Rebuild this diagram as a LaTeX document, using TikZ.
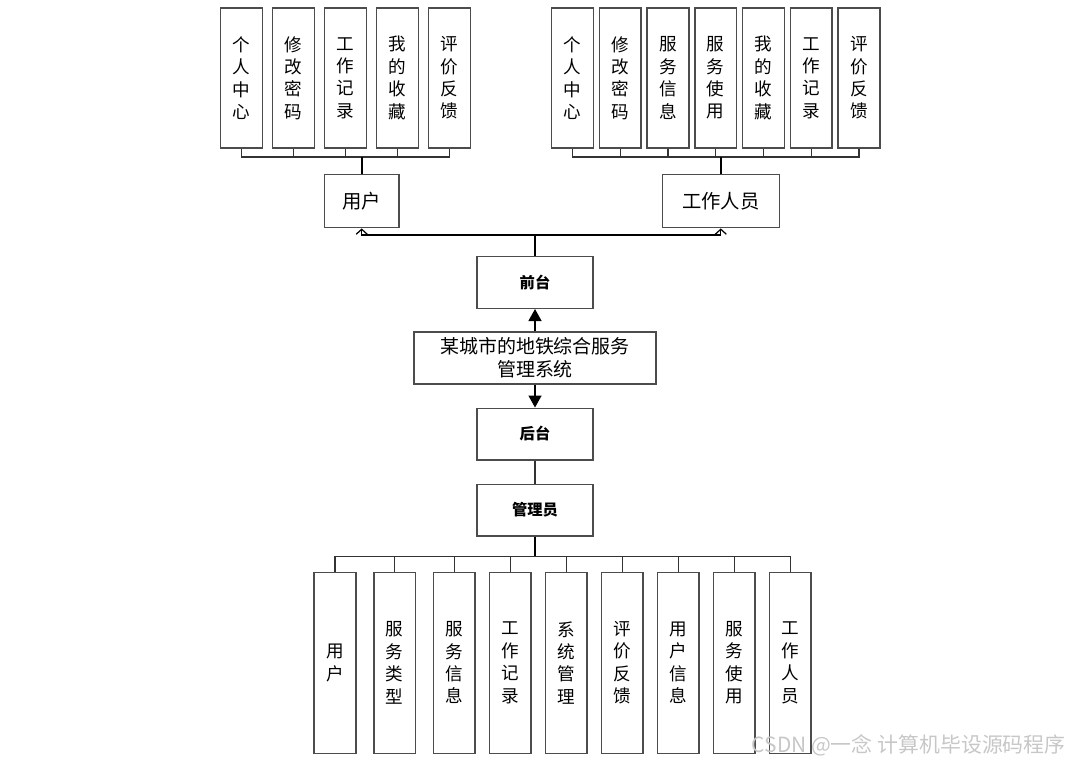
\documentclass[tikz,border=0pt]{standalone}
\usepackage{fontspec}
\setmainfont{Noto Sans CJK SC}
\usetikzlibrary{arrows.meta}

\begin{document}
\begin{tikzpicture}[x=0.02cm,y=-0.02cm,
    box/.style={draw=black!70, line width=0.8pt, fill=white, inner sep=0pt, align=center},
    vbox/.style={box, minimum width=0.834cm, font=\fontsize{10}{12.75}\selectfont},
    hbox/.style={box, minimum height=1.068cm, font=\fontsize{11}{13}\selectfont},
    mbox/.style={box, minimum width=2.326cm, minimum height=1.032cm, font=\fontsize{8.7}{11}\selectfont\bfseries},
    bus/.style={draw=black!80, line width=0.6pt},
    stem/.style={draw=black, line width=1.1pt}]
    \useasboundingbox (0,0) rectangle (1070,762);

    % Front end: the user's side
    \node[hbox, minimum width=1.494cm] (user) at (361.7,201) {用户};
    \foreach \t [count=\i] in {{个\\人\\中\\心},{修\\改\\密\\码},{工\\作\\记\\录},{我\\的\\收\\藏},{评\\价\\反\\馈}}
    \node[vbox, minimum height=2.8cm] (U\i) at (241.5+52*\i-52,78) {\t};
    \foreach \i in {1,...,5}
    \draw[bus] (user.north) -- ++(0,-16.6) -| (U\i.south);
    \draw[stem] (user.north) -- ++(0,-16.6);

    % Front end: the staff's side
    \node[hbox, minimum width=2.34cm] (staff) at (720.8,201) {工作人员};
    \foreach \t [count=\i] in {{个\\人\\中\\心},{修\\改\\密\\码},{服\\务\\信\\息},{服\\务\\使\\用},{我\\的\\收\\藏},{工\\作\\记\\录},{评\\价\\反\\馈}}
    \node[vbox, minimum height=2.8cm] (S\i) at (572.5+47.75*\i-47.75,78) {\t};
    \foreach \i in {1,...,7}
    \draw[bus] (staff.north) -- ++(0,-16.6) -| (S\i.south);
    \draw[stem] (staff.north) -- ++(0,-16.6);

    % Middle column
    \node[mbox] (front) at (535,282.5) {前台};
    \node[box, minimum width=4.834cm, minimum height=1.04cm, font=\fontsize{10.8}{13}\selectfont] (sys) at (535,358) {某城市的地铁综合服务\\管理系统};
    \node[mbox] (back) at (535,434) {后台};
    \node[mbox] (admin) at (535,510) {管理员};

    \draw[line width=0.7pt] (front.north) -- ++(0,-21) coordinate (split);
    \draw[line width=0.7pt, -{Straight Barb[length=0.1cm,width=0.22cm]}] (split) -| (user.south);
    \draw[line width=0.7pt, -{Straight Barb[length=0.1cm,width=0.22cm]}] (split) -| (staff.south);
    \draw[line width=0.8pt, -{Triangle[length=0.24cm,width=0.26cm]}] (sys.north) -- (front.south);
    \draw[line width=0.8pt, -{Triangle[length=0.24cm,width=0.26cm]}] (sys.south) -- (back.north);
    \draw[bus] (back.south) -- (admin.north);

    % Back end: the admin's modules
    \foreach \x/\t [count=\i] in {335/{用\\户},394.7/{服\\务\\类\\型},454.2/{服\\务\\信\\息},510.2/{工\\作\\记\\录},566.2/{系\\统\\管\\理},622.2/{评\\价\\反\\馈},678.2/{用\\户\\信\\息},734.2/{服\\务\\使\\用},790.2/{工\\作\\人\\员}}
    \node[vbox, minimum height=3.62cm] (A\i) at (\x,662.8) {\t};
    \foreach \i in {1,...,9}
    \draw[bus] (admin.south) -- ++(0,19.6) -| (A\i.north);
    \draw[stem] (admin.south) -- ++(0,19.6);

    % Watermark
    \node[text=black!22, font=\fontsize{11.9}{12}\selectfont, anchor=east, inner sep=0pt] (mark) at (1066,745) {CSDN @一念 计算机毕设源码程序};
\end{tikzpicture}
\end{document}
